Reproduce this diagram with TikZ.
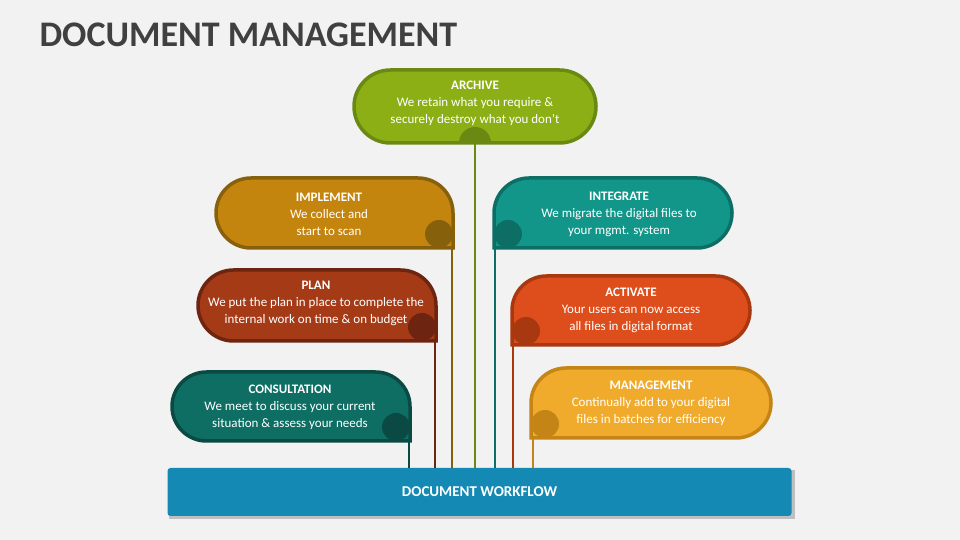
\documentclass[tikz,border=0pt]{standalone}
\usepackage{fontspec}
\setmainfont{Carlito}
\begin{document}
\begin{tikzpicture}[x=1pt,y=1pt,
  txt/.style={text=white,align=center,font=\fontsize{13}{17}\selectfont},
  conn/.style={line width=1.8pt}]
\fill[white!94!black] (0,0) rectangle (960,540);
\useasboundingbox (0,0) rectangle (960,540);
\definecolor{bg}{HTML}{F2F2F2}
\fill[bg] (0,0) rectangle (960,540);
\node[anchor=west,text=black!75,font=\fontsize{36}{40}\selectfont\bfseries] (title) at (36,505) {DOCUMENT MANAGEMENT};
% colours
\definecolor{arF}{HTML}{8BAF15}\definecolor{arB}{HTML}{6A8912}
\definecolor{imF}{HTML}{C4850F}\definecolor{imB}{HTML}{87600C}
\definecolor{plF}{HTML}{A53A16}\definecolor{plB}{HTML}{6D2511}
\definecolor{coF}{HTML}{0E6E63}\definecolor{coB}{HTML}{0A4A43}
\definecolor{inF}{HTML}{13968A}\definecolor{inB}{HTML}{0D6E66}
\definecolor{acF}{HTML}{DE4E1C}\definecolor{acB}{HTML}{A8380F}
\definecolor{maF}{HTML}{F0AA2C}\definecolor{maB}{HTML}{C48516}
\definecolor{wfF}{HTML}{1389B4}
\newcommand\lpod[6]{%
  \pgfmathsetmacro\rr{(#2-#4)/2}
  \begin{scope}
  \clip (#3,#4) -- ({#1+\rr},#4) arc[start angle=270,end angle=90,radius=\rr] -- ({#3-\rr},#2) arc[start angle=90,end angle=0,radius=\rr] -- cycle;
  \fill[#5] (#1,#4) rectangle (#3,#2);
  \fill[#6] ({#3-14},{#4+14}) circle (14);
  \end{scope}
  \draw[#6,line width=3.5pt] (#3,#4) -- ({#1+\rr},#4) arc[start angle=270,end angle=90,radius=\rr] -- ({#3-\rr},#2) arc[start angle=90,end angle=0,radius=\rr] -- cycle;}
\newcommand\rpod[6]{%
  \pgfmathsetmacro\rr{(#2-#4)/2}
  \begin{scope}
  \clip (#1,#4) -- ({#3-\rr},#4) arc[start angle=-90,end angle=90,radius=\rr] -- ({#1+\rr},#2) arc[start angle=90,end angle=180,radius=\rr] -- cycle;
  \fill[#5] (#1,#4) rectangle (#3,#2);
  \fill[#6] ({#1+14},{#4+14}) circle (14);
  \end{scope}
  \draw[#6,line width=3.5pt] (#1,#4) -- ({#3-\rr},#4) arc[start angle=-90,end angle=90,radius=\rr] -- ({#1+\rr},#2) arc[start angle=90,end angle=180,radius=\rr] -- cycle;}
% workflow box
\fill[black!25] (169,21) rectangle (795,70);
\node[fill=wfF,minimum width=624pt,minimum height=48pt,rounded corners=3pt,inner sep=0pt,text=white,font=\fontsize{15}{18}\selectfont\bfseries] (wf) at (479.5,48) {DOCUMENT WORKFLOW};
% connectors
\coordinate (ar-b) at (475,397); \coordinate (ar-e) at (475,72);
\coordinate (im-b) at (452,292); \coordinate (im-e) at (452,72);
\coordinate (pl-b) at (435,199); \coordinate (pl-e) at (435,72);
\coordinate (co-b) at (409,99);  \coordinate (co-e) at (409,72);
\coordinate (in-b) at (495,292); \coordinate (in-e) at (495,72);
\coordinate (ac-b) at (513,195); \coordinate (ac-e) at (513,72);
\coordinate (ma-b) at (533,102); \coordinate (ma-e) at (533,72);
\draw[conn,arB] (ar-b) -- (ar-e);
\draw[conn,imB] (im-b) -- (im-e);
\draw[conn,plB] (pl-b) -- (pl-e);
\draw[conn,coB] (co-b) -- (co-e);
\draw[conn,inB] (in-b) -- (in-e);
\draw[conn,acB] (ac-b) -- (ac-e);
\draw[conn,maB] (ma-b) -- (ma-e);
% archive pill
\begin{scope}
\clip[rounded corners=36.5pt] (354,397) rectangle (596,470);
\fill[arF] (354,397) rectangle (596,470);
\fill[arB] (475,397) circle (16);
\end{scope}
\draw[arB,line width=3.5pt,rounded corners=36.5pt] (354,397) rectangle (596,470);
\node[txt] (ar) at (475,437) {\textbf{ARCHIVE}\\We retain what you require \&\\securely destroy what you don't};
% pods
\lpod{216}{362}{453}{292}{imF}{imB}
\node[txt] (im) at (329,326) {\textbf{IMPLEMENT}\\We collect and\\start to scan};
\lpod{198}{270}{436}{199}{plF}{plB}
\node[txt] (pl) at (316,237) {\textbf{PLAN}\\We put the plan in place to complete the\\internal work on time \& on budget};
\lpod{172}{168}{410}{99}{coF}{coB}
\node[txt] (co) at (290,133) {\textbf{CONSULTATION}\\We meet to discuss your current\\situation \& assess your needs};
\rpod{494}{362}{732}{292}{inF}{inB}
\node[txt] (in) at (619,326) {\textbf{INTEGRATE}\\We migrate the digital files to\\your mgmt. system};
\rpod{512}{264}{750}{195}{acF}{acB}
\node[txt] (ac) at (631,230) {\textbf{ACTIVATE}\\Your users can now access\\all files in digital format};
\rpod{531}{172}{771}{102}{maF}{maB}
\node[txt] (ma) at (651,137) {\textbf{MANAGEMENT}\\Continually add to your digital\\files in batches for efficiency};
\end{tikzpicture}
\end{document}
